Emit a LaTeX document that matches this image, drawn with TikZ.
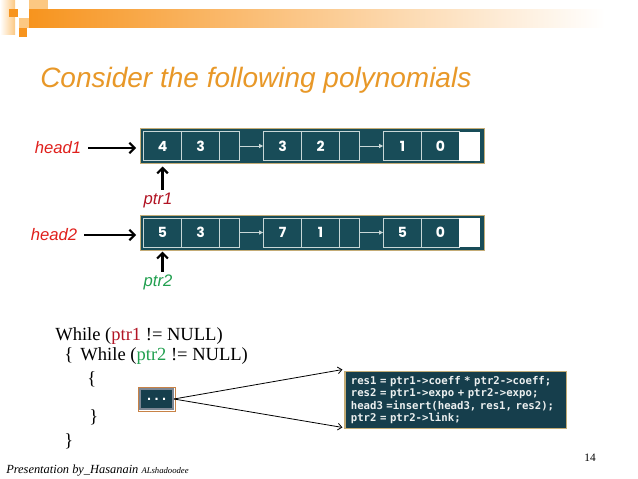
\documentclass[tikz,border=0pt]{standalone}
\usepackage{fontspec}
\setmainfont{Liberation Serif}
\setsansfont{Liberation Sans}
\newfontfamily\codefont{DejaVu Sans Mono}
\newfontfamily\cellfont{Poppins}
\usetikzlibrary{arrows.meta}
\definecolor{listteal}{RGB}{24,76,88}
\definecolor{codeteal}{RGB}{22,62,76}
\definecolor{celledge}{RGB}{200,215,215}
\definecolor{tanedge}{RGB}{196,172,118}
\definecolor{titleorange}{RGB}{232,152,40}
\definecolor{headred}{RGB}{224,32,28}
\definecolor{ptrred}{RGB}{178,20,36}
\definecolor{ptrgreen}{RGB}{34,160,80}
\definecolor{barorange}{RGB}{247,148,30}
\definecolor{lightorange}{RGB}{252,200,130}
\definecolor{dotsbrown}{RGB}{200,130,70}
\definecolor{dotsgrey}{RGB}{125,135,148}
\definecolor{codetext}{RGB}{236,240,240}
\newcommand{\drawpolylist}[8]{%
  \node[listbg] (#1bg) at (312.25,#2) {};
  \node[datacell] (#1a) at (162.5,#2) {#3};
  \node[datacell] (#1b) at (200.5,#2) {#4};
  \node[ptrcell]  (#1c) at (229.5,#2) {};
  \node[datacell] (#1d) at (282.5,#2) {#5};
  \node[datacell] (#1e) at (320.5,#2) {#6};
  \node[ptrcell]  (#1f) at (349.5,#2) {};
  \node[datacell] (#1g) at (402.5,#2) {#7};
  \node[datacell] (#1h) at (440.5,#2) {#8};
  \node[endcell]  (#1i) at (469.75,#2) {};
  \draw[linkarrow] (#1c.east) -- (#1d.west);
  \draw[linkarrow] (#1f.east) -- (#1g.west);
}
\begin{document}
\begin{tikzpicture}[x=0.75pt,y=-0.75pt,
  listbg/.style={fill=listteal, draw=tanedge, line width=0.5pt, minimum width=257.6pt, minimum height=26.25pt, inner sep=0},
  cellbox/.style={draw=celledge, line width=0.6pt, minimum height=21.75pt, inner sep=0, text=white, font=\cellfont\bfseries\fontsize{10.5}{11}\selectfont},
  datacell/.style={cellbox, minimum width=28.5pt},
  ptrcell/.style={cellbox, minimum width=15pt},
  endcell/.style={fill=white, minimum width=15.4pt, minimum height=21.75pt, inner sep=0},
  linkarrow/.style={draw=celledge, line width=0.6pt, -{Triangle[length=3pt,width=3pt]}},
  headarrow/.style={draw=black, line width=1.6pt, -{Straight Barb[length=4pt,width=8pt]}},
  lbl/.style={font=\sffamily\itshape\fontsize{12.5}{14}\selectfont, inner sep=1pt},
  codeline/.style={anchor=base west, inner sep=0, font=\fontsize{13.9}{16}\selectfont},
  thinarrow/.style={draw=black, line width=0.6pt, -{Straight Barb[length=3pt,width=5pt]}}]
\useasboundingbox (0,0) rectangle (638,478);
\fill[white] (0,0) rectangle (638,478);
% header decoration
\shade[left color=barorange, right color=white] (29,10) rectangle (605,28);
\shade[left color=white, right color=lightorange] (0,0) rectangle (15,35);
\fill[barorange] (9,9) rectangle (18,17);
\fill[lightorange] (29,0) rectangle (48,9);
\fill[lightorange] (19,18) rectangle (29,28);
\fill[barorange] (19,28) rectangle (27,37);
% title
\node[anchor=base west, inner sep=0, text=titleorange, font=\sffamily\itshape\fontsize{21}{25}\selectfont] (title) at (40,88) {Consider the following polynomials};
% lists
\drawpolylist{p}{146}{4}{3}{3}{2}{1}{0}
\drawpolylist{q}{232.5}{5}{3}{7}{1}{5}{0}
% labels
\node[lbl, text=headred] (h1) at (58,148) {head1};
\node[lbl, text=headred] (h2) at (54,235) {head2};
\node[lbl, text=ptrred] (p1) at (158,200) {ptr1};
\node[lbl, text=ptrgreen] (p2) at (158,282) {ptr2};
\draw[headarrow, shorten <=4pt, shorten >=3pt] (h1.east) -- (h1.east -| pbg.west);
\draw[headarrow, shorten <=4pt, shorten >=3pt] (h2.east) -- (h2.east -| qbg.west);
\draw[headarrow, shorten <=1pt, shorten >=2pt] (pa.center |- p1.north) -- (pa.center |- pbg.south);
\draw[headarrow, shorten <=1pt, shorten >=1pt] (qa.center |- p2.north) -- (qa.center |- qbg.south);
% loop code
\node[codeline] (w1) at (55,340) {While ({\color{ptrred}ptr1} != NULL)};
\node[codeline] (w2) at (64,360) {\{\hspace{5.5pt}While ({\color{ptrgreen}ptr2} != NULL)};
\node[codeline] (w3) at (87,384.6) {\{};
\node[codeline] (w4) at (89,422.6) {\}};
\node[codeline] (w5) at (64,446) {\}};
% dots box
\node[fill=codeteal, draw=dotsgrey, line width=1.2pt, minimum width=24.75pt, minimum height=15pt, inner sep=0, text=white, font=\codefont\bfseries\fontsize{9.4}{10}\selectfont] (dots) at (156.6,399) {...};
\draw[dotsbrown, line width=0.6pt] ([shift={(-1.3,-1.3)}]dots.north west) rectangle ([shift={(1.3,1.3)}]dots.south east);
% code box
\node[fill=codeteal, draw=tanedge, line width=0.8pt, minimum width=165.75pt, minimum height=42.5pt, text width=157pt, inner xsep=4.4pt, align=left, text=codetext, font=\codefont\bfseries\fontsize{8}{9.4}\selectfont] (code) at (455.5,400) {res1 = ptr1->coeff * ptr2->coeff;\\res2 = ptr1->expo + ptr2->expo;\\head3 =insert(head3, res1, res2);\\ptr2 = ptr2->link;};
\draw[thinarrow] (dots.east) -- ([shift={(-2,-1.5)}]code.north west);
\draw[thinarrow] (dots.east) -- ([shift={(-2,-1.5)}]code.south west);
% footer
\node[anchor=base west, inner sep=0, font=\itshape\fontsize{9.3}{11}\selectfont] (foot) at (6,473) {Presentation by\_Hasanain {\fontsize{6.5}{7}\selectfont ALshadoodee}};
\node[inner sep=0, font=\fontsize{8.5}{10}\selectfont] (pg) at (590,458) {14};
\end{tikzpicture}
\end{document}
